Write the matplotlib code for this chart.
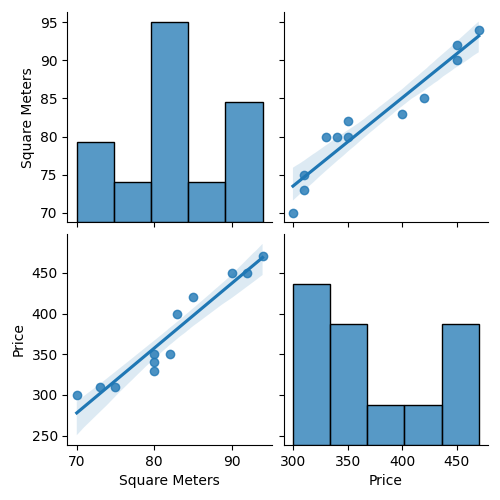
import pandas as pd
import seaborn as sns
import matplotlib
matplotlib.use('Agg')
import matplotlib.pyplot as plt

square_meters = [70, 73, 75, 80, 80, 80, 82, 83, 85, 90, 92, 94]
price = [300, 310, 310, 330, 340, 350, 350, 400, 420, 450, 450, 470]

df = pd.DataFrame({'Square Meters': square_meters, 'Price': price})

g = sns.pairplot(df, kind='reg', plot_kws={'seed': 0})
g.figure.set_size_inches(5, 5)
plt.savefig('out.png', dpi=100)
